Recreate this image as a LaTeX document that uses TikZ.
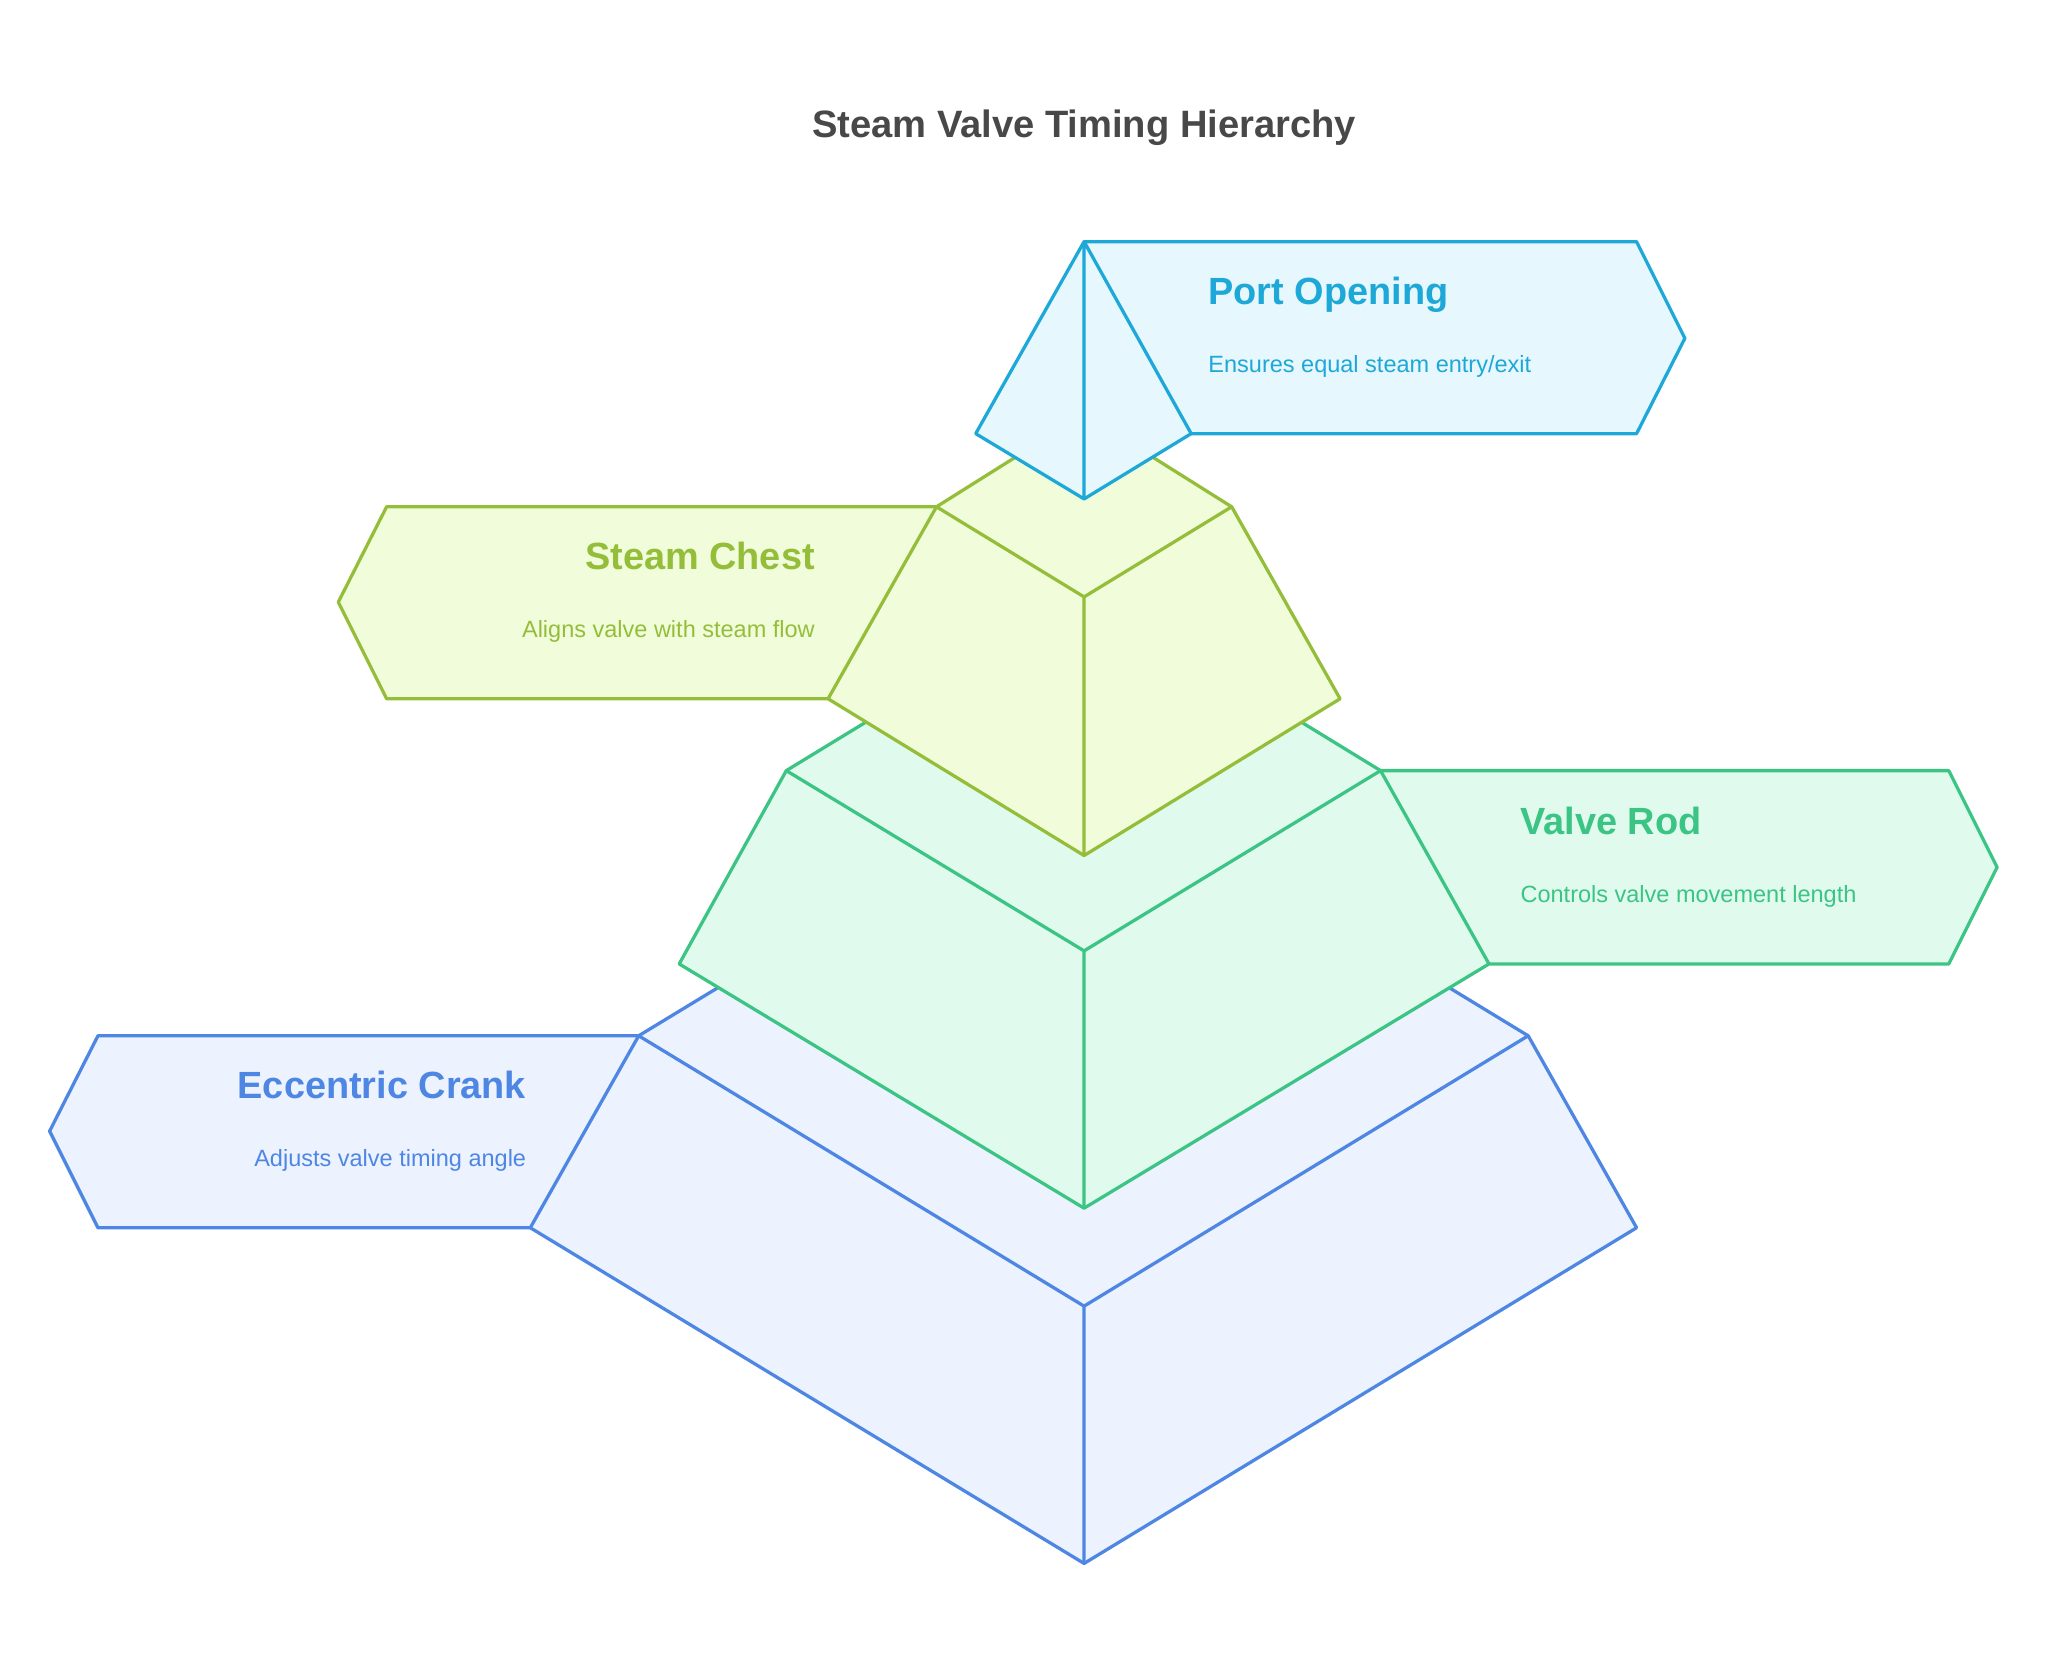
\documentclass[tikz,border=0pt]{standalone}
\usepackage{fontspec}
\setmainfont{Liberation Sans}
\definecolor{cyS}{HTML}{1EA8D8}
\definecolor{cyF}{HTML}{E6F7FE}
\definecolor{ygS}{HTML}{94BE3A}
\definecolor{ygF}{HTML}{F1FDDA}
\definecolor{grS}{HTML}{3CC484}
\definecolor{grF}{HTML}{E0FBEE}
\definecolor{blS}{HTML}{4E86E4}
\definecolor{blF}{HTML}{ECF2FE}
\definecolor{ttl}{HTML}{484848}
\tikzset{
  lvl/.style={line width=2.5pt, line join=round},
  head/.style={inner sep=0pt, font=\bfseries\fontsize{29}{32}\selectfont},
  desc/.style={inner sep=0pt, font=\fontsize{18}{21}\selectfont},
}
\begin{document}
\begin{tikzpicture}[x=1pt,y=-1pt]
\useasboundingbox (0,0) rectangle (1568,1274);
% title
\node[inner sep=0pt, anchor=base, text=ttl, font=\bfseries\fontsize{29.2}{32}\selectfont] (title) at (830,105) {Steam Valve Timing Hierarchy};

% ---- level 4 : Eccentric Crank (blue)
\coordinate (dB) at (830,586); \coordinate (dTL) at (489,793); \coordinate (dTR) at (1170,793);
\coordinate (dF) at (830,1000); \coordinate (dBL) at (406,940); \coordinate (dBR) at (1253,940);
\coordinate (dP) at (830,1197);
\coordinate (dL1) at (75,793); \coordinate (dL2) at (38,866); \coordinate (dL3) at (75,940);
\filldraw[lvl, draw=blS, fill=blF] (dB) -- (dTR) -- (dBR) -- (dP) -- (dBL) -- (dL3) -- (dL2) -- (dL1) -- (dTL) -- cycle;
\draw[lvl, blS] (dTL) -- (dBL) (dTL) -- (dF) -- (dTR) (dF) -- (dP);
\node[head, text=blS, anchor=base east] (h4) at (403,841) {Eccentric Crank};
\node[desc, text=blS, anchor=base east] (t4) at (403,893) {Adjusts valve timing angle};

% ---- level 3 : Valve Rod (green)
\coordinate (cB) at (830,451); \coordinate (cTL) at (602,590); \coordinate (cTR) at (1057,590);
\coordinate (cF) at (830,728); \coordinate (cBL) at (520,738); \coordinate (cBR) at (1140,738);
\coordinate (cP) at (830,925);
\coordinate (cL1) at (1492,590); \coordinate (cL2) at (1529,664); \coordinate (cL3) at (1492,738);
\filldraw[lvl, draw=grS, fill=grF] (cB) -- (cTR) -- (cL1) -- (cL2) -- (cL3) -- (cBR) -- (cP) -- (cBL) -- (cTL) -- cycle;
\draw[lvl, grS] (cTR) -- (cBR) (cTL) -- (cF) -- (cTR) (cF) -- (cP);
\node[head, text=grS, anchor=base west] (h3) at (1164,639) {Valve Rod};
\node[desc, text=grS, anchor=base west] (t3) at (1164,691) {Controls valve movement length};

% ---- level 2 : Steam Chest (yellow-green)
\coordinate (bB) at (830,317); \coordinate (bTL) at (717,388); \coordinate (bTR) at (943,388);
\coordinate (bF) at (830,457); \coordinate (bBL) at (634,535); \coordinate (bBR) at (1026,535);
\coordinate (bP) at (830,655);
\coordinate (bL1) at (296,388); \coordinate (bL2) at (259,461); \coordinate (bL3) at (296,535);
\filldraw[lvl, draw=ygS, fill=ygF] (bB) -- (bTR) -- (bBR) -- (bP) -- (bBL) -- (bL3) -- (bL2) -- (bL1) -- (bTL) -- cycle;
\draw[lvl, ygS] (bTL) -- (bBL) (bTL) -- (bF) -- (bTR) (bF) -- (bP);
\node[head, text=ygS, anchor=base east] (h2) at (624,436) {Steam Chest};
\node[desc, text=ygS, anchor=base east] (t2) at (624,488) {Aligns valve with steam flow};

% ---- level 1 : Port Opening (cyan)
\coordinate (aA) at (830,185); \coordinate (aBL) at (747,332); \coordinate (aBR) at (912,332);
\coordinate (aP) at (830,382);
\coordinate (aL1) at (1253,185); \coordinate (aL2) at (1290,259); \coordinate (aL3) at (1253,332);
\filldraw[lvl, draw=cyS, fill=cyF] (aA) -- (aL1) -- (aL2) -- (aL3) -- (aBR) -- (aP) -- (aBL) -- cycle;
\draw[lvl, cyS] (aA) -- (aBR) (aA) -- (aP);
\node[head, text=cyS, anchor=base west] (h1) at (925,233) {Port Opening};
\node[desc, text=cyS, anchor=base west] (t1) at (925,285) {Ensures equal steam entry/exit};
\end{tikzpicture}
\end{document}
